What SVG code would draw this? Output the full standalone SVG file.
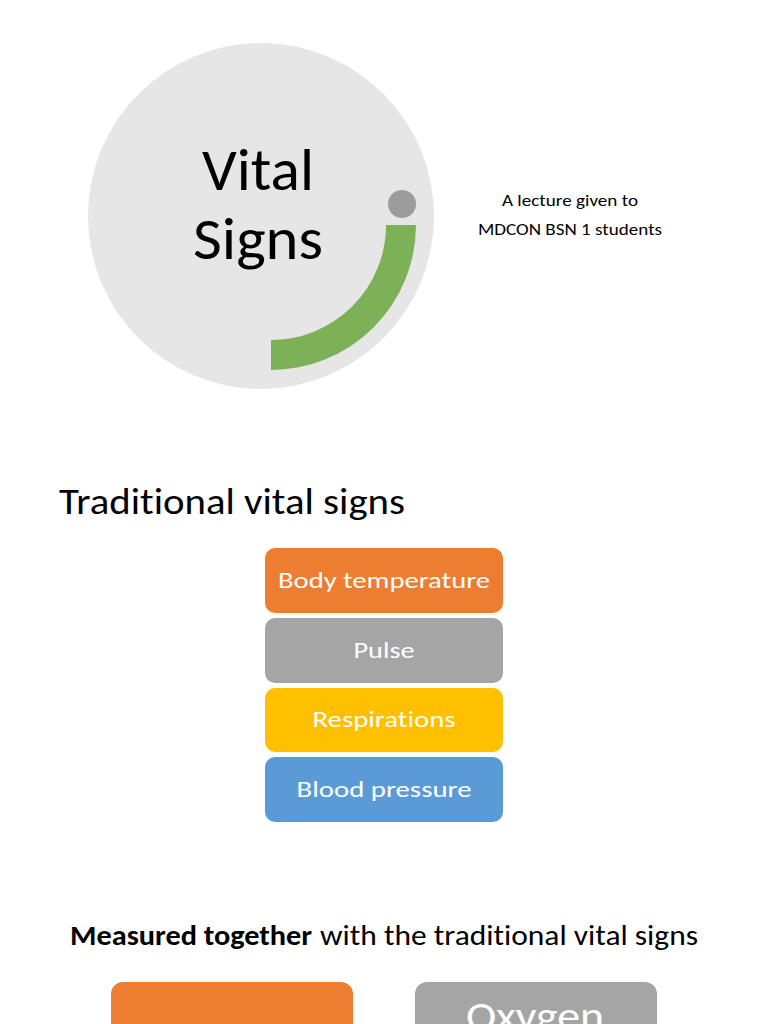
<svg xmlns="http://www.w3.org/2000/svg" width="768" height="1024" viewBox="0 0 768 1024">
  <style>
    text { font-family: Carlito, "Open Sans", "Noto Sans", sans-serif; font-variant-ligatures: none; }
    .dark { fill: #000000; }
    .wt { fill: #ffffff; font-size: 23px; text-anchor: middle; }
    .box { stroke: none; }
  </style>
  <rect width="768" height="1024" fill="#ffffff"/>
  <g id="title">
    <circle cx="261" cy="216" r="173" fill="#e7e6e6"/>
    <path d="M401 225 A130 130 0 0 1 271 355" fill="none" stroke="#7cb157" stroke-width="30"/>
    <circle cx="402" cy="204" r="14" fill="#9c9c9c"/>
    <text class="dark" x="258" y="190" font-size="60" text-anchor="middle" textLength="112" lengthAdjust="spacingAndGlyphs">Vital</text>
    <text class="dark" x="258" y="259" font-size="60" text-anchor="middle" textLength="130" lengthAdjust="spacingAndGlyphs">Signs</text>
  </g>
  <g id="subtitle">
    <text class="dark" x="570" y="206" font-size="17" text-anchor="middle" textLength="136" lengthAdjust="spacingAndGlyphs">A lecture given to</text>
    <text class="dark" x="570" y="235" font-size="17" text-anchor="middle" textLength="184" lengthAdjust="spacingAndGlyphs">MDCON BSN 1 students</text>
  </g>
  <g id="heading1">
    <text class="dark" x="59" y="514" font-size="36" textLength="346" lengthAdjust="spacingAndGlyphs">Traditional vital signs</text>
  </g>
  <g id="body-temperature">
    <rect class="box" x="265" y="548" width="238" height="65" rx="10" fill="#ed7d31"/>
    <text class="wt" x="384" y="588" textLength="212" lengthAdjust="spacingAndGlyphs">Body temperature</text>
  </g>
  <g id="pulse">
    <rect class="box" x="265" y="618" width="238" height="65" rx="10" fill="#a5a5a5"/>
    <text class="wt" x="384" y="658" textLength="61" lengthAdjust="spacingAndGlyphs">Pulse</text>
  </g>
  <g id="respirations">
    <rect class="box" x="265" y="688" width="238" height="64" rx="10" fill="#ffc000"/>
    <text class="wt" x="384" y="727" textLength="143" lengthAdjust="spacingAndGlyphs">Respirations</text>
  </g>
  <g id="blood-pressure">
    <rect class="box" x="265" y="757" width="238" height="65" rx="10" fill="#5b9bd5"/>
    <text class="wt" x="384" y="797" textLength="175" lengthAdjust="spacingAndGlyphs">Blood pressure</text>
  </g>
  <g id="heading2">
    <text class="dark" x="70" y="945" font-size="28"><tspan font-weight="bold" textLength="242" lengthAdjust="spacingAndGlyphs">Measured together</tspan><tspan x="320" y="945" textLength="378" lengthAdjust="spacingAndGlyphs">with the traditional vital signs</tspan></text>
  </g>
  <g id="box-orange">
    <rect class="box" x="111" y="982" width="242" height="80" rx="12" fill="#ed7d31"/>
  </g>
  <g id="oxygen">
    <rect class="box" x="415" y="982" width="242" height="80" rx="12" fill="#a5a5a5"/>
    <text x="535" y="1030" font-size="40" fill="#ffffff" text-anchor="middle" textLength="138" lengthAdjust="spacingAndGlyphs">Oxygen</text>
  </g>
</svg>
